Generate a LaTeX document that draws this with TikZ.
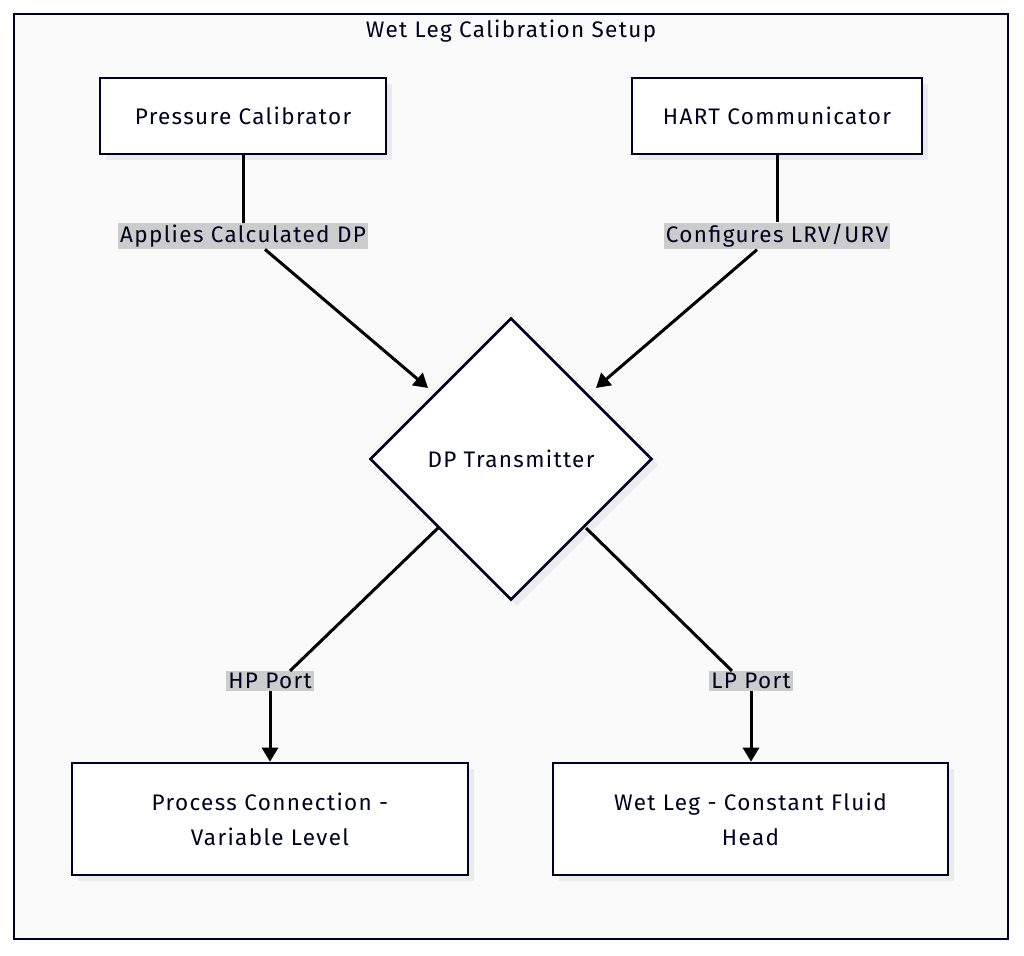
\documentclass[tikz,border=0pt]{standalone}
\usepackage{fontspec}
\setmainfont[LetterSpace=6]{Fira Sans}
\usetikzlibrary{shapes.geometric,arrows.meta}
\begin{document}
\begin{tikzpicture}[x=1pt,y=-1pt,
  every node/.style={font=\fontsize{22.5}{35}\selectfont, text=black!80!blue!60!black},
  box/.style={draw=black!85!blue, line width=2.6pt, fill=white, minimum height=76pt, align=center},
  lbl/.style={fill=black!20, inner sep=2pt, text=black!80!blue!60!black},
  conn/.style={line width=3pt, draw=black},
  arr/.style={conn, -{Triangle[length=14pt,width=16pt]}},
  shadow/.style={fill=black!8, draw=none}]
\useasboundingbox (0,0) rectangle (1024,955);
\fill[white] (0,0) rectangle (1024,955);
\draw[fill=black!2!white, draw=black!85!blue, line width=2.6pt] (14,14) rectangle (1008,939);
\node (title) at (511,31) {Wet Leg Calibration Setup};
% shadows
\fill[shadow] (106,84) rectangle (392,160);
\fill[shadow] (638,84) rectangle (928,160);
\fill[shadow] (78,769) rectangle (474,881);
\fill[shadow] (559,769) rectangle (954,881);
\fill[shadow] (517,324) -- (658,465) -- (517,606) -- (376,465) -- cycle;
\node[box, minimum width=286pt] (pc) at (243,116) {Pressure Calibrator};
\node[box, minimum width=290pt] (hart) at (777,116) {HART Communicator};
\node[box, minimum width=396pt, minimum height=112pt] (proc) at (270,819) {Process Connection -\\Variable Level};
\node[box, minimum width=395pt, minimum height=112pt] (wet) at (750.5,819) {Wet Leg - Constant Fluid\\Head};
\node[diamond, draw=black!85!blue, line width=2.6pt, fill=white, minimum width=282pt, minimum height=282pt, inner sep=0pt] (dp) at (511,459) {DP Transmitter};
\node[lbl] (l1) at (243,236) {Applies Calculated DP};
\node[lbl] (l2) at (777,236) {Configures LRV/URV};
\node[lbl] (l3) at (270,681) {HP Port};
\node[lbl] (l4) at (751,681) {LP Port};
\draw[conn] (pc.south) -- (l1.north);
\draw[arr] (l1.south -| 265,0) -- (428,388);
\draw[conn] (hart.south) -- (l2.north);
\draw[arr] (l2.south -| 757,0) -- (596,388);
\draw[conn] (438,528) -- (l3.north -| 290,0);
\draw[arr] (l3.south) -- (proc.north);
\draw[conn] (586,528) -- (l4.north -| 732,0);
\draw[arr] (l4.south) -- (wet.north -| l4.south);
\end{tikzpicture}
\end{document}
